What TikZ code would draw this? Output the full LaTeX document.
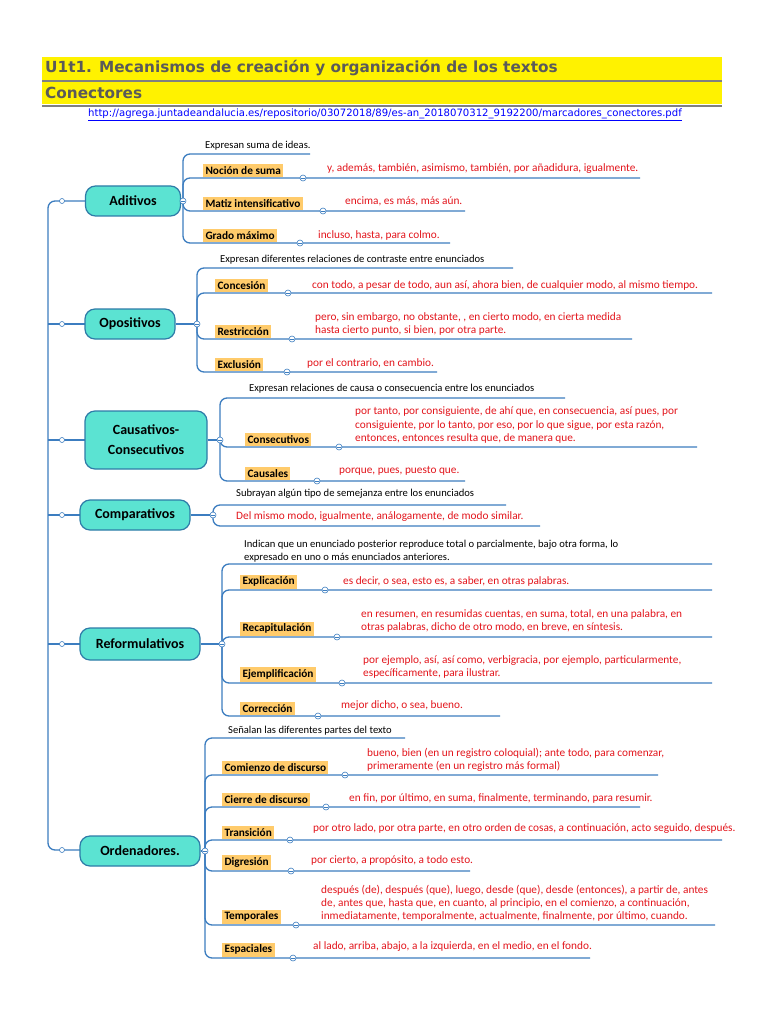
\documentclass[tikz,border=0pt]{standalone}
\usepackage{fontspec}
\setmainfont{Carlito}
\newfontfamily\vfont{DejaVu Sans}
\begin{document}
\begin{tikzpicture}[x=1pt,y=-1pt,
  ln/.style={draw=lineblue,line width=1.3pt,rounded corners=7pt},
  mainbox/.style={draw=boxedge,line width=1.2pt,fill=teal1,rounded corners=10pt,font=\fontsize{14}{17}\selectfont\bfseries,align=center,inner sep=0pt},
  lab/.style={fill=orange1,font=\fontsize{11.3}{12}\selectfont\bfseries,inner sep=2.3pt,anchor=south west},
  red/.style={text=redt,font=\fontsize{11.3}{13.2}\selectfont,anchor=west,align=left,inner sep=0pt},
  desc/.style={font=\fontsize{10.6}{13.2}\selectfont,anchor=west,align=left,inner sep=0pt},
  mn/.style={circle,draw=lineblue,fill=white,line width=0.6pt,minimum size=6pt,inner sep=0pt,path picture={\draw[line width=0.6pt] ([xshift=-1.6pt]path picture bounding box.center)--([xshift=1.6pt]path picture bounding box.center);}},
  sm/.style={circle,draw=lineblue,fill=white,line width=0.6pt,minimum size=5pt,inner sep=0pt}]
\definecolor{lineblue}{HTML}{3C7DC0}
\definecolor{boxedge}{HTML}{2E7CA8}
\definecolor{teal1}{HTML}{5BE3D2}
\definecolor{orange1}{HTML}{FFCB6B}
\definecolor{redt}{HTML}{E3151C}
\definecolor{titlegray}{HTML}{5A5A5A}
\useasboundingbox (0,0) rectangle (768,1024);
\fill[white] (0,0) rectangle (768,1024);
% header
\fill[yellow] (42,57) rectangle (722,80);
\fill[yellow] (42,82) rectangle (722,104);
\draw[gray,line width=2pt] (42,81)--(722,81);
\draw[gray,line width=2pt] (42,106)--(722,106);
\node[anchor=west,text=titlegray,font=\vfont\fontsize{15.3}{17}\selectfont\bfseries,inner sep=0pt] (t1) at (45,68) {U1t1. Mecanismos de creación y organización de los textos};
\node[anchor=west,text=titlegray,font=\vfont\fontsize{15.3}{17}\selectfont\bfseries,inner sep=0pt] (t2) at (45,93) {Conectores};
\node[text=blue,font=\vfont\fontsize{10.1}{10}\selectfont,inner sep=0pt] (url) at (385,115) {\underline{http://agrega.juntadeandalucia.es/repositorio/03072018/89/es-an\_2018070312\_9192200/marcadores\_conectores.pdf}};
% trunk
\draw[ln] (85,201) -| (48,850) -- (80,850);
\foreach \yy/\xx in {324/85,440/85,515/80,644/80}{\draw[ln] (48,\yy)--(\xx,\yy);}
\foreach \yy in {201,324,440,515,644,850}{\node[sm] at (62,\yy) {};}
% main nodes
\node[mainbox,minimum width=95pt,minimum height=30pt] (adi) at (133,201) {Aditivos};
\node[mainbox,minimum width=90pt,minimum height=30pt] (opo) at (130,324) {Opositivos};
\node[mainbox,minimum width=122pt,minimum height=58pt] (cau) at (146,440) {Causativos-\\[3pt]Consecutivos};
\node[mainbox,minimum width=110pt,minimum height=30pt] (com) at (135,515) {Comparativos};
\node[mainbox,minimum width=120pt,minimum height=32pt] (ref) at (140,644) {Reformulativos};
\node[mainbox,minimum width=120pt,minimum height=30pt] (ord) at (140,851) {Ordenadores.};
% Aditivos
\coordinate (ba) at (183,201);
\draw[ln] (adi.east)--(ba);
\draw[ln] (ba) |- (310,154);
\draw[ln] (ba) |- (640,178);
\draw[ln] (ba) |- (465,211);
\draw[ln] (ba) |- (450,243);
\node[mn] at (ba) {};
\node[desc] at (205,146) {Expresan suma de ideas.};
\node[lab] (a1) at (203,177) {Noción de suma}; \node[mn] at (303,178) {}; \node[red] at (327,169) {y, además, también, asimismo, también, por añadidura, igualmente.};
\node[lab] (a2) at (203,210) {Matiz intensificativo}; \node[mn] at (323,211) {}; \node[red] at (345,201) {encima, es más, más aún.};
\node[lab] (a3) at (203,242) {Grado máximo}; \node[mn] at (300,243) {}; \node[red] at (318,235) {incluso, hasta, para colmo.};
% Opositivos
\coordinate (bo) at (197,324);
\draw[ln] (opo.east)--(bo);
\draw[ln] (bo) |- (513,268);
\draw[ln] (bo) |- (712,293);
\draw[ln] (bo) |- (632,339);
\draw[ln] (bo) |- (437,372);
\node[mn] at (bo) {};
\node[desc] at (220,260) {Expresan diferentes relaciones de contraste entre enunciados};
\node[lab] (o1) at (215,292) {Concesión}; \node[mn] at (288,293) {}; \node[red] at (312,285) {con todo, a pesar de todo, aun así, ahora bien, de cualquier modo, al mismo tiempo.};
\node[lab] (o2) at (215,338) {Restricción}; \node[mn] at (292,339) {}; \node[red] at (315,324) {pero, sin embargo, no obstante, , en cierto modo, en cierta medida\\hasta cierto punto, si bien, por otra parte.};
\node[lab] (o3) at (215,371) {Exclusión}; \node[mn] at (287,372) {}; \node[red] at (307,363) {por el contrario, en cambio.};
% Causativos
\coordinate (bc) at (220,440);
\draw[ln] (cau.east)--(bc);
\draw[ln] (bc) |- (565,398);
\draw[ln] (bc) |- (697,447);
\draw[ln] (bc) |- (465,481);
\node[mn] at (bc) {};
\node[desc] at (249,389) {Expresan relaciones de causa o consecuencia entre los enunciados};
\node[lab] (c1) at (245,446) {Consecutivos}; \node[mn] at (339,447) {}; \node[red] at (355,425) {por tanto, por consiguiente, de ahí que, en consecuencia, así pues, por\\consiguiente, por lo tanto, por eso, por lo que sigue, por esta razón,\\entonces, entonces resulta que, de manera que.};
\node[lab] (c2) at (245,480) {Causales}; \node[mn] at (317,481) {}; \node[red] at (339,471) {porque, pues, puesto que.};
% Comparativos
\coordinate (bm) at (213,515);
\draw[ln] (com.east)--(bm);
\draw[ln] (bm) |- (506,505);
\draw[ln] (bm) |- (540,526);
\node[mn] at (bm) {};
\node[desc] at (236,494) {Subrayan algún tipo de semejanza entre los enunciados};
\node[red] at (236,517) {Del mismo modo, igualmente, análogamente, de modo similar.};
% Reformulativos
\coordinate (br) at (222,644);
\draw[ln] (ref.east)--(br);
\draw[ln] (br) |- (712,564);
\draw[ln] (br) |- (712,590);
\draw[ln] (br) |- (712,637);
\draw[ln] (br) |- (712,683);
\draw[ln] (br) |- (500,716);
\node[mn] at (br) {};
\node[desc] at (244,551) {Indican que un enunciado posterior reproduce total o parcialmente, bajo otra forma, lo\\expresado en uno o más enunciados anteriores.};
\node[lab] (r1) at (240,589) {Explicación}; \node[mn] at (325,590) {}; \node[red] at (343,581) {es decir, o sea, esto es, a saber, en otras palabras.};
\node[lab] (r2) at (240,636) {Recapitulación}; \node[mn] at (337,637) {}; \node[red] at (361,621) {en resumen, en resumidas cuentas, en suma, total, en una palabra, en\\otras palabras, dicho de otro modo, en breve, en síntesis.};
\node[lab] (r3) at (240,682) {Ejemplificación}; \node[mn] at (342,683) {}; \node[red] at (363,667) {por ejemplo, así, así como, verbigracia, por ejemplo, particularmente,\\específicamente, para ilustrar.};
\node[lab] (r4) at (240,715) {Corrección}; \node[mn] at (318,716) {}; \node[red] at (341,706) {mejor dicho, o sea, bueno.};
% Ordenadores
\coordinate (bd) at (205,851);
\draw[ln] (ord.east)--(bd);
\draw[ln] (bd) |- (405,738);
\draw[ln] (bd) |- (658,775);
\draw[ln] (bd) |- (640,807);
\draw[ln] (bd) |- (722,840);
\draw[ln] (bd) |- (470,871);
\draw[ln] (bd) |- (715,925);
\draw[ln] (bd) |- (590,958);
\node[mn] at (bd) {};
\node[desc] at (228,731) {Señalan las diferentes partes del texto};
\node[lab] (d1) at (222,774) {Comienzo de discurso}; \node[mn] at (345,775) {}; \node[red] at (367,760) {bueno, bien (en un registro coloquial); ante todo, para comenzar,\\primeramente (en un registro más formal)};
\node[lab] (d2) at (222,806) {Cierre de discurso}; \node[mn] at (326,807) {}; \node[red] at (349,798) {en fin, por último, en suma, finalmente, terminando, para resumir.};
\node[lab] (d3) at (222,839) {Transición}; \node[mn] at (290,840) {}; \node[red] at (313,829) {por otro lado, por otra parte, en otro orden de cosas, a continuación, acto seguido, después.};
\node[lab] (d4) at (222,870) {Digresión}; \node[mn] at (291,871) {}; \node[red] at (311,860) {por cierto, a propósito, a todo esto.};
\node[lab] (d5) at (222,924) {Temporales}; \node[mn] at (296,925) {}; \node[red] at (321,903) {después (de), después (que), luego, desde (que), desde (entonces), a partir de, antes\\de, antes que, hasta que, en cuanto, al principio, en el comienzo, a continuación,\\inmediatamente, temporalmente, actualmente, finalmente, por último, cuando.};
\node[lab] (d6) at (222,957) {Espaciales}; \node[mn] at (293,958) {}; \node[red] at (313,947) {al lado, arriba, abajo, a la izquierda, en el medio, en el fondo.};
\end{tikzpicture}
\end{document}
